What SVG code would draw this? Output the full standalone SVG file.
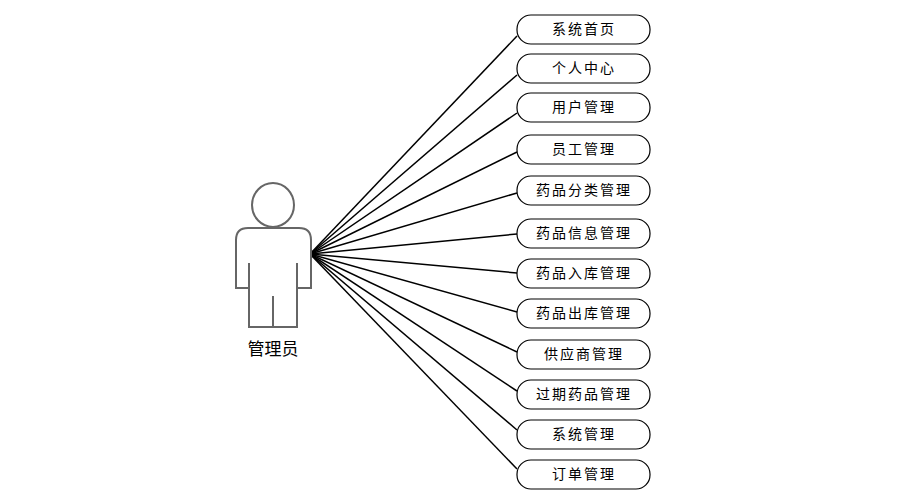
<svg xmlns="http://www.w3.org/2000/svg" width="917" height="497" viewBox="0 0 917 497">
<style>
.n rect{fill:#fff;stroke:#000;stroke-width:1.2}
.n text{font-family:"Noto Sans CJK SC",sans-serif;font-size:14px;text-anchor:middle;letter-spacing:2px}
#conn line{stroke:#000;stroke-width:1.5}
.a{fill:#fff;stroke:#666;stroke-width:2}
</style>
<rect width="917" height="497" fill="#fff"/>
<g id="conn">
<line x1="310" y1="254" x2="517" y2="36"/>
<line x1="310" y1="254" x2="517" y2="75"/>
<line x1="310" y1="254" x2="517" y2="113"/>
<line x1="310" y1="254" x2="517" y2="152"/>
<line x1="310" y1="254" x2="517" y2="193"/>
<line x1="310" y1="254" x2="517" y2="234"/>
<line x1="310" y1="254" x2="517" y2="273"/>
<line x1="310" y1="254" x2="517" y2="312"/>
<line x1="310" y1="254" x2="517" y2="352"/>
<line x1="310" y1="254" x2="517" y2="391"/>
<line x1="310" y1="254" x2="517" y2="430"/>
<line x1="310" y1="254" x2="517" y2="469"/>
</g>
<g id="actor">
<ellipse class="a" cx="273" cy="205" rx="21" ry="22"/>
<path class="a" d="M249,288 H236 V240 Q236,228 248,228 H299 Q311,228 311,240 V288 H297 V327 H249 Z M249,263 V288 M297,263 V288 M273,296 V327"/>
<text x="273" y="355" font-family="Noto Sans CJK SC,sans-serif" font-size="17" text-anchor="middle">管理员</text>
</g>
<g class="n" id="n1"><rect x="517" y="15" width="133" height="29" rx="14"/><text x="584" y="34">系统首页</text></g>
<g class="n" id="n2"><rect x="517" y="54" width="133" height="29" rx="14"/><text x="584" y="73">个人中心</text></g>
<g class="n" id="n3"><rect x="517" y="93" width="133" height="29" rx="14"/><text x="584" y="112">用户管理</text></g>
<g class="n" id="n4"><rect x="517" y="135" width="133" height="29" rx="14"/><text x="584" y="154">员工管理</text></g>
<g class="n" id="n5"><rect x="517" y="176" width="133" height="29" rx="14"/><text x="584" y="195">药品分类管理</text></g>
<g class="n" id="n6"><rect x="517" y="219" width="133" height="29" rx="14"/><text x="584" y="238">药品信息管理</text></g>
<g class="n" id="n7"><rect x="517" y="259" width="133" height="29" rx="14"/><text x="584" y="278">药品入库管理</text></g>
<g class="n" id="n8"><rect x="517" y="299" width="133" height="29" rx="14"/><text x="584" y="318">药品出库管理</text></g>
<g class="n" id="n9"><rect x="517" y="340" width="133" height="29" rx="14"/><text x="584" y="359">供应商管理</text></g>
<g class="n" id="n10"><rect x="517" y="380" width="133" height="29" rx="14"/><text x="584" y="399">过期药品管理</text></g>
<g class="n" id="n11"><rect x="517" y="420" width="133" height="29" rx="14"/><text x="584" y="439">系统管理</text></g>
<g class="n" id="n12"><rect x="517" y="460" width="133" height="29" rx="14"/><text x="584" y="479">订单管理</text></g>
</svg>
